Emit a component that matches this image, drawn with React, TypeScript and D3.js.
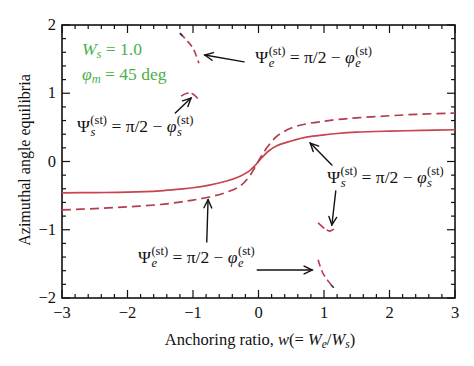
import React from "react";
import * as d3 from "d3";

// ---- data ----
const xTicks = [-3, -2, -1, 0, 1, 2, 3];
const yTicks = [-2, -1, 0, 1, 2];
const wGrid = [-3, -2.5, -2, -1.5, -1.2, -1, -0.75, -0.5, -0.28, -0.15, -0.05, 0, 0.05, 0.15, 0.28, 0.5, 0.75, 1, 1.2, 1.5, 2, 2.5, 3];
const psiSolid = [-0.46, -0.455, -0.45, -0.43, -0.405, -0.385, -0.345, -0.29, -0.215, -0.145, -0.055, 0.0, 0.055, 0.15, 0.23, 0.3, 0.36, 0.39, 0.41, 0.43, 0.445, 0.455, 0.465];
const psiDashed = [-0.71, -0.69, -0.665, -0.63, -0.595, -0.565, -0.52, -0.455, -0.36, -0.23, -0.08, 0.01, 0.09, 0.23, 0.37, 0.49, 0.555, 0.59, 0.615, 0.64, 0.67, 0.695, 0.71];
// small branches
const branchA_w = [-1.2, -1.1, -1.0, -0.91];
const branchA_v = [1.88, 1.78, 1.66, 1.44];
const branchAdark_w = [-1.2, -1.16];
const branchAdark_v = [1.88, 1.84];
const branchB_w = [-1.18, -1.09, -1.0, -0.91];
const branchB_v = [0.96, 1.0, 0.99, 0.9];
const branchC_w = [0.91, 1.02, 1.09, 1.18];
const branchC_v = [-0.9, -0.99, -1.02, -0.97];
const branchD_w = [0.91, 0.98, 1.07, 1.15];
const branchD_v = [-1.44, -1.63, -1.76, -1.85];
const branchDdark_w = [1.11, 1.15];
const branchDdark_v = [-1.81, -1.85];
// annotation arrows (tail w, tail v, head w, head v)
const arrows = [
  [-0.22, 1.46, -0.82, 1.56],
  [-1.27, 0.71, -1.03, 0.93],
  [1.12, -0.05, 0.79, 0.27],
  [1.18, -0.43, 1.12, -0.93],
  [-0.79, -1.18, -0.77, -0.56],
  [-0.02, -1.59, 0.82, -1.59],
];
// equation labels (w, v, subscript)
const eqLabels: [number, number, string][] = [
  [-0.05, 1.44, "e"],
  [-2.77, 0.43, "s"],
  [1.05, -0.31, "s"],
  [-1.84, -1.48, "e"],
];

const W = 474, H = 366;
const x = d3.scaleLinear().domain([-3, 3]).range([62, 455]);
const y = d3.scaleLinear().domain([-2, 2]).range([298, 25]);
const FONT = "Liberation Serif, DejaVu Serif, Times New Roman, serif";
const RED = "#c9434c";
const DRED = "#b43c4e";
const DARK = "#2c2c48";

const lineMain = d3.line<[number, number]>().x(d => x(d[0])).y(d => y(d[1])).curve(d3.curveCatmullRom.alpha(0.5));
const lineCurve = d3.line<[number, number]>().x(d => x(d[0])).y(d => y(d[1])).curve(d3.curveCatmullRom);
const zip = (a: number[], b: number[]) => a.map((v, i) => [v, b[i]] as [number, number]);

function Arrow({ a }: { a: number[] }) {
  const x1 = x(a[0]), y1 = y(a[1]), x2 = x(a[2]), y2 = y(a[3]);
  const ang = Math.atan2(y2 - y1, x2 - x1);
  const L = 9, s = 0.45;
  const h1 = [x2 - L * Math.cos(ang - s), y2 - L * Math.sin(ang - s)];
  const h2 = [x2 - L * Math.cos(ang + s), y2 - L * Math.sin(ang + s)];
  return (
    <g stroke="#111" strokeWidth={1.4} fill="none" strokeLinecap="round">
      <line x1={x1} y1={y1} x2={x2} y2={y2} />
      <polyline points={`${h1[0]},${h1[1]} ${x2},${y2} ${h2[0]},${h2[1]}`} />
    </g>
  );
}

function Eq({ px, py, sub }: { px: number; py: number; sub: string }) {
  const subW = sub === "s" ? 5 : 5.5;
  return (
    <text x={px} y={py} style={{ fontFamily: FONT }} fontSize={17.5} fill="#111">
      <tspan>Ψ</tspan>
      <tspan fontStyle="italic" fontSize={12.5} dy={4} dx={0.5}>{sub}</tspan>
      <tspan fontSize={12.5} dy={-12} dx={-subW}>(st)</tspan>
      <tspan dy={8}>{" = π/2 − "}</tspan>
      <tspan fontStyle="italic">φ</tspan>
      <tspan fontStyle="italic" fontSize={12.5} dy={4} dx={0.5}>{sub}</tspan>
      <tspan fontSize={12.5} dy={-12} dx={-subW}>(st)</tspan>
    </text>
  );
}

export default function App() {
  const xMinor = d3.range(-3, 3.001, 0.2);
  const yMinor = d3.range(-2, 2.001, 0.2);
  const L = 62, R = 455, T = 25, B = 298;
  return (
    <svg width={W} height={H} style={{ position: "absolute", left: 0, top: 0, background: "#fff", fontFamily: FONT }}>
      {/* ticks */}
      <g stroke="#111" strokeWidth={1.2}>
        {xMinor.map((t, i) => {
          const major = Math.abs(t - Math.round(t)) < 1e-6;
          const len = major ? 8 : 4;
          return (
            <g key={"xt" + i}>
              <line x1={x(t)} x2={x(t)} y1={B} y2={B - len} />
              <line x1={x(t)} x2={x(t)} y1={T} y2={T + len} />
            </g>
          );
        })}
        {yMinor.map((t, i) => {
          const major = Math.abs(t - Math.round(t)) < 1e-6;
          const len = major ? 8 : 4;
          return (
            <g key={"yt" + i}>
              <line y1={y(t)} y2={y(t)} x1={L} x2={L + len} />
              <line y1={y(t)} y2={y(t)} x1={R} x2={R - len} />
            </g>
          );
        })}
      </g>
      <rect x={L} y={T} width={R - L} height={B - T} fill="none" stroke="#111" strokeWidth={1.6} />
      {/* tick labels */}
      <g style={{ fontFamily: FONT }} fontSize={16.5} fill="#111">
        {xTicks.map(t => (
          <text key={"xl" + t} x={x(t)} y={318} textAnchor="middle">{t < 0 ? "−" + Math.abs(t) : t}</text>
        ))}
        {yTicks.map(t => (
          <text key={"yl" + t} x={56} y={y(t) + 5} textAnchor="end">{t < 0 ? "−" + Math.abs(t) : t}</text>
        ))}
      </g>
      {/* axis labels */}
      <text x={260} y={345} textAnchor="middle" style={{ fontFamily: FONT }} fontSize={16.5} fill="#111">
        Anchoring ratio, <tspan fontStyle="italic">w</tspan>(= <tspan fontStyle="italic">W</tspan>
        <tspan fontStyle="italic" fontSize={11.5} dy={3}>e</tspan>
        <tspan dy={-3}>/</tspan><tspan fontStyle="italic">W</tspan>
        <tspan fontStyle="italic" fontSize={11.5} dy={3}>s</tspan>
        <tspan dy={-3}>)</tspan>
      </text>
      <text transform={`translate(30,160) rotate(-90)`} textAnchor="middle" style={{ fontFamily: FONT }} fontSize={16} fill="#111">
        Azimuthal angle equilibria
      </text>
      {/* curves */}
      <path d={lineMain(zip(wGrid, psiSolid)) || ""} fill="none" stroke={RED} strokeWidth={1.7} />
      <path d={lineMain(zip(wGrid, psiDashed)) || ""} fill="none" stroke={DRED} strokeWidth={1.7} strokeDasharray="9,5" />
      <path d={lineCurve(zip(branchA_w, branchA_v)) || ""} fill="none" stroke={DRED} strokeWidth={1.6} strokeDasharray="7,4" />
      <path d={lineCurve(zip(branchAdark_w, branchAdark_v)) || ""} fill="none" stroke={DARK} strokeWidth={1.6} />
      <path d={lineCurve(zip(branchB_w, branchB_v)) || ""} fill="none" stroke={DRED} strokeWidth={1.6} strokeDasharray="8,3" />
      <path d={lineCurve(zip(branchC_w, branchC_v)) || ""} fill="none" stroke={DRED} strokeWidth={1.6} strokeDasharray="8,3" />
      <path d={lineCurve(zip(branchD_w, branchD_v)) || ""} fill="none" stroke={DRED} strokeWidth={1.6} strokeDasharray="7,4" />
      <path d={lineCurve(zip(branchDdark_w, branchDdark_v)) || ""} fill="none" stroke={DARK} strokeWidth={1.6} />
      {/* arrows */}
      {arrows.map((a, i) => <Arrow key={"a" + i} a={a} />)}
      {/* equations */}
      {eqLabels.map((e, i) => <Eq key={"e" + i} px={x(e[0])} py={y(e[1])} sub={e[2]} />)}
      {/* parameters */}
      <g style={{ fontFamily: FONT }} fontSize={17.5} fill="#4cb04c">
        <text x={82} y={55}>
          <tspan fontStyle="italic">W</tspan>
          <tspan fontStyle="italic" fontSize={12.5} dy={3}>s</tspan>
          <tspan dy={-3}>{" = 1.0"}</tspan>
        </text>
        <text x={82} y={80}>
          <tspan fontStyle="italic">φ</tspan>
          <tspan fontStyle="italic" fontSize={12.5} dy={3}>m</tspan>
          <tspan dy={-3}>{" = 45 deg"}</tspan>
        </text>
      </g>
    </svg>
  );
}
